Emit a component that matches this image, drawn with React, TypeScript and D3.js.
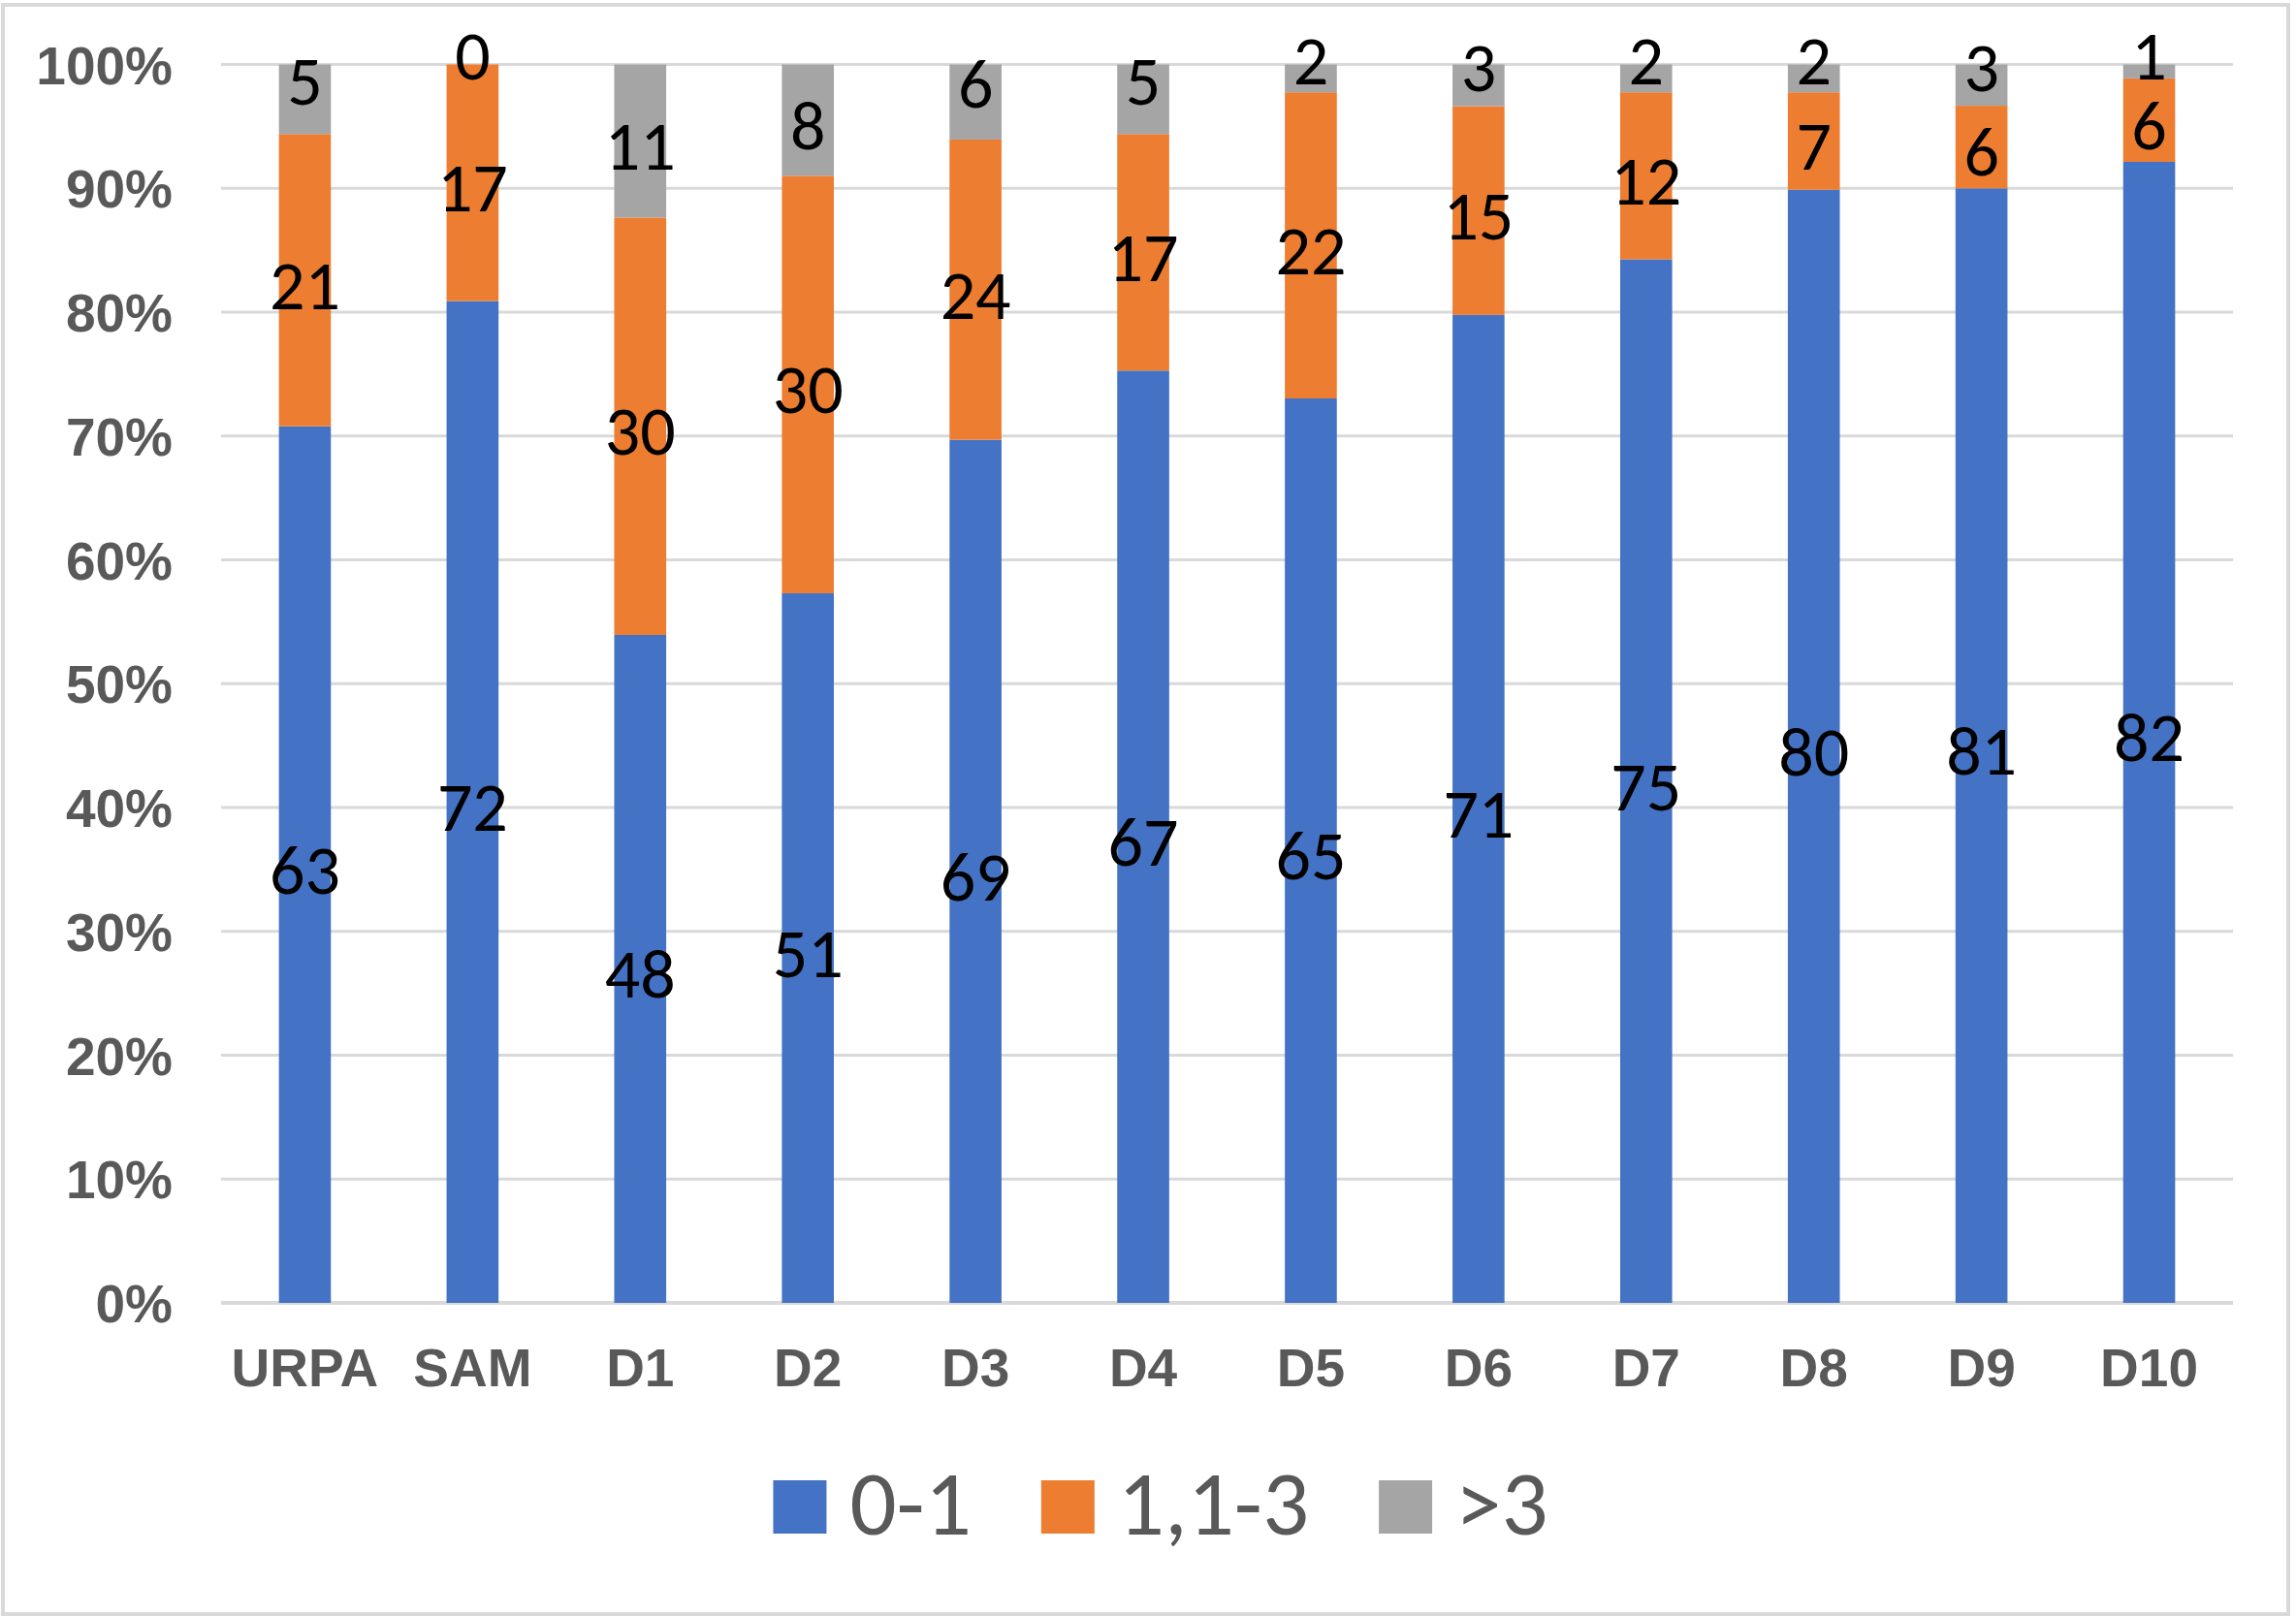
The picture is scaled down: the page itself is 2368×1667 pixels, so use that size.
import React, {useRef, useEffect} from 'react'
import * as d3 from 'd3'

const categories = ['URPA', 'SAM', 'D1', 'D2', 'D3', 'D4', 'D5', 'D6', 'D7', 'D8', 'D9', 'D10']
const low = [63, 72, 48, 51, 69, 67, 65, 71, 75, 80, 81, 82]
const mid = [21, 17, 30, 30, 24, 17, 22, 15, 12, 7, 6, 6]
const high = [5, 0, 11, 8, 6, 5, 2, 3, 2, 2, 3, 1]
const seriesNames = ['0-1', '1,1-3', '>3']
const seriesColors = ['#4472C4', '#ED7D31', '#A5A5A5']
const yTicks = [0, 0.1, 0.2, 0.3, 0.4, 0.5, 0.6, 0.7, 0.8, 0.9, 1]

const W = 2368
const H = 1667
const plotLeft = 228
const plotRight = 2303
const plotTop = 66.5
const plotBottom = 1344

const axisFont = '"Liberation Sans", Arial, sans-serif'
const labelFont = 'Carlito, Lato, "Open Sans", sans-serif'

function App() {
  const legendRef: any = useRef<SVGGElement>(null)

  const x = d3
    .scaleBand()
    .domain(categories)
    .range([plotLeft, plotRight])
    .paddingInner(0.69)
    .paddingOuter(0.345)
  const y = d3.scaleLinear().domain([0, 1]).range([plotBottom, plotTop])

  const rows = categories.map((c, i) => ({cat: c, '0-1': low[i], '1,1-3': mid[i], '>3': high[i]}))
  const stacked = d3
    .stack<any>()
    .keys(seriesNames)
    .offset(d3.stackOffsetExpand)(rows)

  const fontSize = 72

  useEffect(() => {
    // legend: lay items out side by side, centred under the chart
    const g = d3.select(legendRef.current)
    let pos = 0
    g.selectAll('g.item').each(function () {
      const item = d3.select(this as any)
      const t: any = item.select('text').node()
      const tw = t.getComputedTextLength()
      item.attr('transform', `translate(${pos},0)`)
      item.select('text').attr('x', 55 + 24)
      pos += 55 + 24 + tw + 72
    })
    pos -= 72
    g.attr('transform', `translate(${1197 - pos / 2},0)`)
  }, [])

  return (
    <div style={{position: 'absolute', left: 0, top: 0}}>
      <svg width={W} height={H} style={{display: 'block', background: '#fff'}}>
        <rect x={3} y={5} width={2357} height={1660} fill="#fff" stroke="#d9d9d9" strokeWidth={4} />

        {/* grid */}
        {yTicks.map((t) => (
          <g key={t}>
            <line
              x1={plotLeft}
              x2={plotRight}
              y1={y(t)}
              y2={y(t)}
              stroke="#d9d9d9"
              strokeWidth={t === 0 ? 4 : 3}
            />
            <text
              x={178}
              y={y(t) + 20}
              textAnchor="end"
              fontFamily={axisFont}
              fontWeight="bold"
              fontSize={55}
              fill="#595959">
              {d3.format('.0%')(t)}
            </text>
          </g>
        ))}

        {/* bars */}
        {stacked.map((s, si) => (
          <g key={s.key} fill={seriesColors[si]}>
            {s.map((d: any, i) => (
              <rect
                key={i}
                x={x(categories[i])}
                y={y(d[1])}
                width={x.bandwidth()}
                height={y(d[0]) - y(d[1])}
              />
            ))}
          </g>
        ))}

        {/* data labels */}
        {stacked.map((s, si) => (
          <g key={'l' + s.key}>
            {s.map((d: any, i) => {
              const vals = [low, mid, high][si]
              let cy = (y(d[0]) + y(d[1])) / 2 + 4
              // thin top segments: Excel nudges the label upwards
              if (si === 2 && d[1] - d[0] < 0.08) cy = Math.max(cy - 24, 56)
              return (
                <text
                  key={i}
                  x={(x(categories[i]) as number) + x.bandwidth() / 2}
                  y={cy + fontSize * 0.358}
                  textAnchor="middle"
                  fontFamily={labelFont}
                  fontSize={fontSize}
                  fill="#000">
                  {vals[i]}
                </text>
              )
            })}
          </g>
        ))}

        {/* x labels */}
        {categories.map((c) => (
          <text
            key={c}
            x={(x(c) as number) + x.bandwidth() / 2}
            y={1430}
            textAnchor="middle"
            fontFamily={axisFont}
            fontWeight="bold"
            fontSize={55}
            fill="#595959">
            {c}
          </text>
        ))}

        {/* legend */}
        <g ref={legendRef}>
          {seriesNames.map((n, i) => (
            <g className="item" key={n}>
              <rect x={0} y={1527} width={55} height={55} fill={seriesColors[i]} />
              <text x={79} y={1583} fontFamily={labelFont} fontSize={95} fill="#595959">
                {n}
              </text>
            </g>
          ))}
        </g>
      </svg>
    </div>
  )
}

export default App
